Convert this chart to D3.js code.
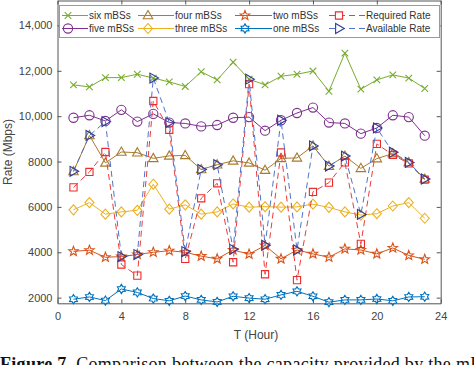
<!DOCTYPE html>
<html>
<head>
<meta charset="utf-8">
<script src="https://cdn.jsdelivr.net/npm/d3@7"></script>
<style>
  body { margin: 0; background: #fff; }
  svg { display: block; font-family: "Liberation Sans", Arial, sans-serif; }
</style>
</head>
<body>
<svg id="chart" width="474" height="365"></svg>
<script>
// data
let hours = [1, 2, 3, 4, 5, 6, 7, 8, 9, 10, 11, 12, 13, 14, 15, 16, 17, 18, 19, 20, 21, 22, 23];
let sixMBSs = [11380, 11290, 11700, 11700, 11850, 11680, 11510, 11310, 11960, 11600, 12380, 11630, 11380, 11760, 11850, 11990, 11100, 12780, 11190, 11600, 11820, 11680, 11220];
let fiveMBSs = [9930, 10040, 9790, 10280, 9760, 10100, 9720, 9680, 9550, 9610, 9930, 9960, 9360, 9820, 10140, 10380, 9720, 9680, 9230, 9480, 10040, 9960, 9140];
let fourMBSs = [7560, 9150, 7940, 8420, 8390, 8140, 8250, 8270, 7650, 7860, 8030, 7940, 7620, 8140, 8160, 8690, 7800, 8240, 7700, 8130, 8350, 7960, 7230];
let threeMBSs = [5870, 6190, 5680, 5780, 5850, 7000, 5900, 6090, 5680, 5780, 6130, 5990, 6010, 5990, 6000, 6120, 5980, 5780, 5640, 5700, 6040, 6190, 5500];
let twoMBSs = [4040, 4090, 3780, 3810, 3900, 4000, 4070, 4000, 3830, 3710, 4100, 3920, 4300, 3710, 4100, 3930, 3780, 4150, 4100, 3930, 4190, 3860, 3690];
let oneMBS = [1930, 2030, 1870, 2380, 2230, 1960, 1860, 2070, 1900, 1810, 2060, 1980, 1930, 2120, 2280, 2060, 1800, 1900, 1900, 1940, 1860, 2030, 2040];
let requiredRate = [6860, 7540, 8420, 3460, 2970, 10670, 9400, 3710, 6380, 7040, 3560, 11410, 3030, 8400, 2770, 6660, 7070, 7960, 4370, 8780, 8290, 7920, 7200];
let availableRate = [7570, 9150, 9760, 3810, 3900, 11680, 9720, 4030, 7650, 7860, 4130, 11630, 4310, 9820, 4100, 8690, 7800, 8240, 5670, 9480, 8410, 7960, 7230];

let xTicks = [0, 4, 8, 12, 16, 20, 24];
let yTicks = [2000, 4000, 6000, 8000, 10000, 12000, 14000];
let yTickLabels = ["2000", "4000", "6000", "8000", "10,000", "12,000", "14,000"];

let svg = d3.select("#chart");

let plotLeft = 57.5, plotRight = 440.7, plotTop = 0.5, plotBottom = 303.3;

let x = d3.scaleLinear().domain([0, 24]).range([plotLeft, plotRight]);
let y = d3.scaleLinear().domain([1750, 15100]).range([plotBottom, plotTop]);

// marker shapes, size = radius in px
let star = (n, inner) => ({
    draw(c, r) {
        for (let i = 0; i < n * 2; i++) {
            let a = -Math.PI / 2 + i * Math.PI / n;
            let rr = i % 2 === 0 ? r : r * inner;
            if (i === 0) c.moveTo(rr * Math.cos(a), rr * Math.sin(a));
            else c.lineTo(rr * Math.cos(a), rr * Math.sin(a));
        }
        c.closePath();
    }
});
let markers = {
    x: { draw(c, r) { c.moveTo(-r, -r); c.lineTo(r, r); c.moveTo(-r, r); c.lineTo(r, -r); } },
    circle: { draw(c, r) { c.moveTo(r, 0); c.arc(0, 0, r, 0, 2 * Math.PI); } },
    triUp: { draw(c, r) { c.moveTo(0, -r); c.lineTo(r * 0.95, r * 0.65); c.lineTo(-r * 0.95, r * 0.65); c.closePath(); } },
    diamond: { draw(c, r) { c.moveTo(0, -r); c.lineTo(r * 0.9, 0); c.lineTo(0, r); c.lineTo(-r * 0.9, 0); c.closePath(); } },
    pentagram: star(5, 0.42),
    hexagram: star(6, 0.6),
    square: { draw(c, r) { c.rect(-r, -r, 2 * r, 2 * r); } },
    triRight: { draw(c, r) { c.moveTo(r, 0); c.lineTo(-r * 0.65, -r * 0.95); c.lineTo(-r * 0.65, r * 0.95); c.closePath(); } }
};

let series = [
    { name: "six mBSs", values: sixMBSs, color: "#77ac30", marker: "x", size: 3.3, dash: null },
    { name: "five mBSs", values: fiveMBSs, color: "#7e2f8e", marker: "circle", size: 4.6, dash: null },
    { name: "four mBSs", values: fourMBSs, color: "#a97b30", marker: "triUp", size: 5, dash: null },
    { name: "three mBSs", values: threeMBSs, color: "#edb120", marker: "diamond", size: 5, dash: null },
    { name: "two mBSs", values: twoMBSs, color: "#d95319", marker: "pentagram", size: 5, dash: null },
    { name: "one mBSs", values: oneMBS, color: "#0072bd", marker: "hexagram", size: 4.6, dash: null },
    { name: "Required Rate", values: requiredRate, color: "#ee2a2a", lineColor: "#ee3a3a", marker: "square", size: 3.6, dash: "6,4" },
    { name: "Available Rate", values: availableRate, color: "#2d3b95", lineColor: "#4f74cc", marker: "triRight", size: 5.2, dash: "6,4" }
];

// axes with inward ticks on all four sides
let axisG = svg.append("g").attr("class", "axes");
let styleAxis = (g) => {
    g.selectAll(".domain").attr("stroke", "#555").attr("stroke-width", 1);
    g.selectAll(".tick line").attr("stroke", "#555");
    g.selectAll("text").attr("fill", "#444").style("font-size", "11px").style("font-family", "'Liberation Sans', Arial, sans-serif");
};
axisG.append("g").attr("transform", `translate(0,${plotBottom})`)
    .call(d3.axisBottom(x).tickValues(xTicks).tickSize(-4).tickSizeOuter(0).tickPadding(9))
    .call(styleAxis);
axisG.append("g").attr("transform", `translate(0,${plotTop})`)
    .call(d3.axisTop(x).tickValues(xTicks).tickSize(-4).tickSizeOuter(0).tickFormat(""))
    .call(styleAxis);
axisG.append("g").attr("transform", `translate(${plotLeft},0)`)
    .call(d3.axisLeft(y).tickValues(yTicks).tickSize(-4).tickSizeOuter(0).tickPadding(5)
        .tickFormat((d, i) => yTickLabels[i]))
    .call(styleAxis);
axisG.append("g").attr("transform", `translate(${plotRight},0)`)
    .call(d3.axisRight(y).tickValues(yTicks).tickSize(-4).tickSizeOuter(0).tickFormat(""))
    .call(styleAxis);

// series lines and markers
let line = d3.line().x((d, i) => x(hours[i])).y(d => y(d));
series.forEach(s => {
    let g = svg.append("g").attr("class", "series");
    g.append("path")
        .datum(s.values)
        .attr("d", line)
        .attr("fill", "none")
        .attr("stroke", s.lineColor || s.color)
        .attr("stroke-width", 1)
        .attr("stroke-dasharray", s.dash);
    g.selectAll("path.mark")
        .data(s.values)
        .enter()
        .append("path")
        .attr("class", "mark")
        .attr("d", d3.symbol().type(markers[s.marker]).size(s.size))
        .attr("transform", (d, i) => `translate(${x(hours[i])},${y(d)})`)
        .attr("fill", "none")
        .attr("stroke", s.color)
        .attr("stroke-width", 1.1);
});

// legend
let legend = svg.append("g").attr("id", "legend");
legend.append("rect")
    .attr("x", 59.5).attr("y", 5.5).attr("width", 380).attr("height", 32)
    .attr("fill", "#fff").attr("stroke", "#9a9a9a").attr("stroke-width", 1);
let colLine = [62, 138, 235, 329];
let colMark = [68, 148, 245, 339];
let colText = [89, 175, 273, 366];
let rowY = [15.5, 28.5];
series.forEach((s, i) => {
    let col = Math.floor(i / 2), row = i % 2;
    let item = legend.append("g");
    item.append("line")
        .attr("x1", colLine[col]).attr("x2", colText[col] - 1)
        .attr("y1", rowY[row]).attr("y2", rowY[row])
        .attr("stroke", s.lineColor || s.color).attr("stroke-width", 1)
        .attr("stroke-dasharray", s.dash);
    item.append("path")
        .attr("d", d3.symbol().type(markers[s.marker]).size(s.size))
        .attr("transform", `translate(${colMark[col]},${rowY[row]})`)
        .attr("fill", s.dash ? "#fff" : "none")
        .attr("stroke", s.color).attr("stroke-width", 1.1);
    item.append("text")
        .attr("x", colText[col]).attr("y", rowY[row] + 3.6)
        .attr("fill", "#333").style("font-size", "10px")
        .text(s.name);
});

// axis titles
svg.append("text")
    .attr("transform", `translate(12,152) rotate(-90)`)
    .attr("text-anchor", "middle")
    .attr("fill", "#444").style("font-size", "12px")
    .text("Rate (Mbps)");
svg.append("text")
    .attr("x", 256).attr("y", 339)
    .attr("text-anchor", "middle")
    .attr("fill", "#444").style("font-size", "12px")
    .text("T (Hour)");

// caption (cut off by the bottom edge, as in the source)
let caption = svg.append("text")
    .attr("x", 0).attr("y", 370)
    .attr("fill", "#111")
    .style("font-family", "'Liberation Serif', 'Times New Roman', serif")
    .style("font-size", "18px")
    .style("letter-spacing", "0.3px");
caption.append("tspan").style("font-weight", "bold").text("Figure 7.");
caption.append("tspan").text(" Comparison between the capacity provided by the mBSs and the required rate.");
</script>
</body>
</html>
